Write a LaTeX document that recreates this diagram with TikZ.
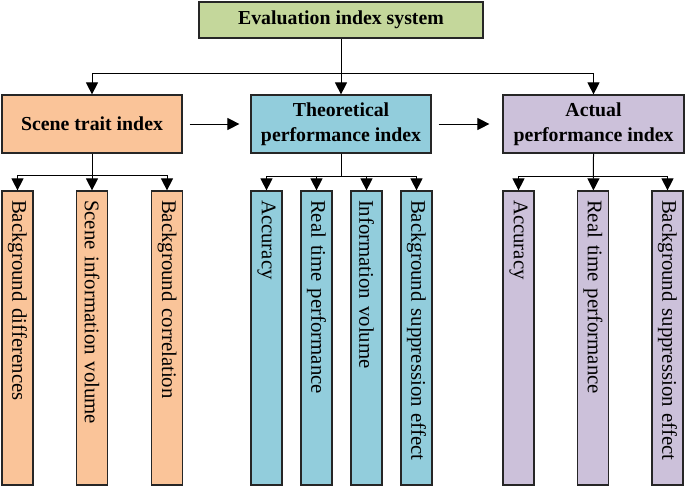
\documentclass[tikz,border=0pt]{standalone}
\usepackage{fontspec}
\setmainfont{Liberation Serif}
\usetikzlibrary{positioning, arrows.meta}
\definecolor{evalgreen}{HTML}{C4D79B}
\definecolor{sceneorange}{HTML}{FAC499}
\definecolor{theoblue}{HTML}{92CDDC}
\definecolor{actpurple}{HTML}{CCC1DA}

\begin{document}
\begin{tikzpicture}[x=1pt, y=-1pt,
        box/.style={draw=black!85, line width=1.2pt, minimum width=180pt, minimum height=58pt,
            inner sep=2pt, align=center, font=\fontsize{19.8}{25}\selectfont\bfseries},
        leaf/.style={draw=black!85, line width=1.2pt, rotate=-90, minimum height=31pt,
            text width=276pt, inner xsep=9pt, inner ysep=0pt, align=left,
            font=\fontsize{20.8}{24}\selectfont},
        link/.style={line width=1pt, -{Triangle[length=12pt, width=12pt]}}]
            \useasboundingbox (0,0) rectangle (685,487);

            \node [box, fill=evalgreen, minimum width=284pt, minimum height=36pt] (eval) at (341, 20) {Evaluation index system};
            \node [box, fill=sceneorange] (scene) at (92, 124) {Scene trait index};
            \node [box, fill=theoblue] (theo) at (341, 124) {Theoretical\\performance index};
            \node [box, fill=actpurple, minimum width=181pt] (actual) at (593.5, 124) {Actual\\performance index};

            \node [leaf, fill=sceneorange] (bgdiff) at (17.5, 338) {Background differences};
            \node [leaf, fill=sceneorange] (sceneinfo) at (92, 338) {Scene information volume};
            \node [leaf, fill=sceneorange] (bgcorr) at (167, 338) {Background correlation};

            \node [leaf, fill=theoblue] (theoacc) at (266.5, 338) {Accuracy};
            \node [leaf, fill=theoblue] (theoreal) at (316.5, 338) {Real time performance};
            \node [leaf, fill=theoblue] (theoinfo) at (366.5, 338) {Information volume};
            \node [leaf, fill=theoblue] (theobgsup) at (416.5, 338) {Background suppression effect};

            \node [leaf, fill=actpurple] (actacc) at (518.5, 338) {Accuracy};
            \node [leaf, fill=actpurple] (actreal) at (593, 338) {Real time performance};
            \node [leaf, fill=actpurple] (actbgsup) at (667.5, 338) {Background suppression effect};

            \coordinate (split) at (341, 73);
            \draw [link] (eval) -- (theo);
            \draw [link] (split) -| (scene);
            \draw [link] (split) -| (actual);

            \draw [link, shorten <=7pt, shorten >=11pt] (scene) -- (theo);
            \draw [link, shorten <=7pt, shorten >=13pt] (theo) -- (actual);

            \draw [link] (scene.south) -- ++(0, 22) -| (bgdiff);
            \draw [link] (scene.south) -- (sceneinfo);
            \draw [link] (scene.south) -- ++(0, 22) -| (bgcorr);

            \draw [link] (theo.south) -- ++(0, 23) -| (theoacc);
            \draw [link] (theo.south) -- ++(0, 23) -| (theoreal);
            \draw [link] (theo.south) -- ++(0, 23) -| (theoinfo);
            \draw [link] (theo.south) -- ++(0, 23) -| (theobgsup);

            \draw [link] (actual.south) -- ++(0, 23) -| (actacc);
            \draw [link] (actual.south) -- (actreal);
            \draw [link] (actual.south) -- ++(0, 23) -| (actbgsup);
        \end{tikzpicture}
\end{document}
